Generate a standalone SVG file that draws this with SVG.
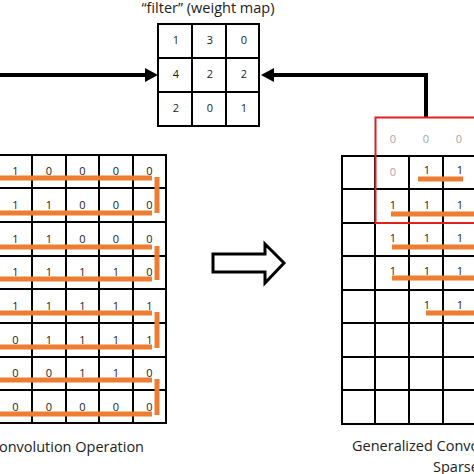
<svg xmlns="http://www.w3.org/2000/svg" width="474" height="474" viewBox="0 0 474 474">
<defs>
<style>
.cell{fill:#fff;stroke:#000;stroke-width:2}
.num{font-family:"Open Sans","Liberation Sans",sans-serif;font-size:11px;fill:#222;text-anchor:middle}
.grey{fill:#a6a6a6}
.lbl{font-family:"Open Sans","Liberation Sans",sans-serif;font-size:14.5px;fill:#222}
.or{stroke:#ed7d31;stroke-width:5;fill:none}
.conn{stroke:#000;stroke-width:4;fill:none}
</style>
<marker id="ah" markerWidth="14" markerHeight="14" refX="13" refY="6.5" orient="auto" markerUnits="userSpaceOnUse">
<path d="M0,0 L13,6.5 L0,13 Z" fill="#000"/>
</marker>
</defs>
<rect width="474" height="474" fill="#fff"/>

<g id="filter">
<text class="lbl" x="208" y="13" text-anchor="middle" font-size="14">“filter” (weight map)</text>
<g>
<rect class="cell" x="158" y="24" width="34" height="34"/><rect class="cell" x="192" y="24" width="34" height="34"/><rect class="cell" x="226" y="24" width="33" height="34"/>
<rect class="cell" x="158" y="58" width="34" height="34"/><rect class="cell" x="192" y="58" width="34" height="34"/><rect class="cell" x="226" y="58" width="33" height="34"/>
<rect class="cell" x="158" y="92" width="34" height="34"/><rect class="cell" x="192" y="92" width="34" height="34"/><rect class="cell" x="226" y="92" width="33" height="34"/>
</g>
<text class="num" x="176" y="44">1</text><text class="num" x="210" y="44">3</text><text class="num" x="244" y="44">0</text>
<text class="num" x="176" y="78">4</text><text class="num" x="210" y="78">2</text><text class="num" x="244" y="78">2</text>
<text class="num" x="176" y="112">2</text><text class="num" x="210" y="112">0</text><text class="num" x="244" y="112">1</text>
</g>

<g id="connectors">
<path class="conn" d="M0,75 H145" />
<path d="M145,68 L158,75 L145,82 Z" fill="#000"/>
<path class="conn" d="M426,118 V75 H274" />
<path d="M274,68 L261,75 L274,82 Z" fill="#000"/>
<polygon points="213,254 265,254 265,244 284,263 265,283 265,272 213,272" fill="#fff" stroke="#000" stroke-width="3" stroke-linejoin="miter"/>
</g>

<g id="left-grid">
<path d="M-1,155 H166 M-1,188 H166 M-1,222 H166 M-1,256 H166 M-1,289 H166 M-1,323 H166 M-1,357 H166 M-1,390 H166 M-1,423 H166 M32,155 V423 M66,155 V423 M99,155 V423 M133,155 V423 M166,154 V424" stroke="#000" stroke-width="2" fill="none"/>
<g class="num">
<text x="15.5" y="175">1</text><text x="49" y="175">0</text><text x="82.5" y="175">0</text><text x="116" y="175">0</text><text x="149.5" y="175">0</text>
<text x="15.5" y="209">1</text><text x="49" y="209">1</text><text x="82.5" y="209">0</text><text x="116" y="209">0</text><text x="149.5" y="209">0</text>
<text x="15.5" y="243">1</text><text x="49" y="243">1</text><text x="82.5" y="243">0</text><text x="116" y="243">0</text><text x="149.5" y="243">0</text>
<text x="15.5" y="276">1</text><text x="49" y="276">1</text><text x="82.5" y="276">1</text><text x="116" y="276">1</text><text x="149.5" y="276">0</text>
<text x="15.5" y="310">1</text><text x="49" y="310">1</text><text x="82.5" y="310">1</text><text x="116" y="310">1</text><text x="149.5" y="310">1</text>
<text x="15.5" y="344">0</text><text x="49" y="344">1</text><text x="82.5" y="344">1</text><text x="116" y="344">1</text><text x="149.5" y="344">1</text>
<text x="15.5" y="377">0</text><text x="49" y="377">0</text><text x="82.5" y="377">1</text><text x="116" y="377">1</text><text x="149.5" y="377">0</text>
<text x="15.5" y="411">0</text><text x="49" y="411">0</text><text x="82.5" y="411">0</text><text x="116" y="411">0</text><text x="149.5" y="411">0</text>
</g>
<g class="or">
<path d="M0,178 H152 M0,213 H152 M157,177 V213"/>
<path d="M0,247 H152 M0,279 H152 M157,246 V280"/>
<path d="M0,313 H152 M0,347 H152 M157,312 V348"/>
<path d="M0,380 H152 M0,414 H152 M157,379 V415"/>
</g>
<text class="lbl" x="144" y="452" text-anchor="end" font-size="15">Convolution Operation</text>
</g>

<g id="right-grid">
<path d="M342,156 H478 M342,189 H478 M342,223 H478 M342,256 H478 M342,290 H478 M342,323 H478 M342,357 H478 M342,390 H478 M342,424 H478 M342,155 V425 M375,156 V424 M409,156 V424 M443,156 V424" stroke="#000" stroke-width="2" fill="none"/>
<rect x="375.5" y="117.5" width="110" height="105.5" fill="none" stroke="#e02020" stroke-width="2"/>
<g class="num">
<text class="grey" x="393" y="143">0</text><text class="grey" x="426" y="143">0</text><text class="grey" x="459" y="143">0</text>
<text class="grey" x="393" y="176">0</text><text x="427" y="174">1</text><text x="460" y="174">1</text>
<text x="393" y="209">1</text><text x="427" y="209">1</text><text x="460" y="209">1</text>
<text x="393" y="242">1</text><text x="427" y="242">1</text><text x="460" y="242">1</text>
<text x="393" y="275">1</text><text x="427" y="275">1</text><text x="460" y="275">1</text>
<text x="427" y="309">1</text><text x="460" y="309">1</text>
</g>
<g class="or">
<path d="M418,179 H463 M391,214 H480 M392,247 H480 M392,278 H480 M426,313 H480"/>
</g>
<text class="lbl" x="352" y="451" font-size="15">Generalized Convolution</text>
<text class="lbl" x="433" y="472" font-size="15">Sparse</text>
</g>
</svg>
